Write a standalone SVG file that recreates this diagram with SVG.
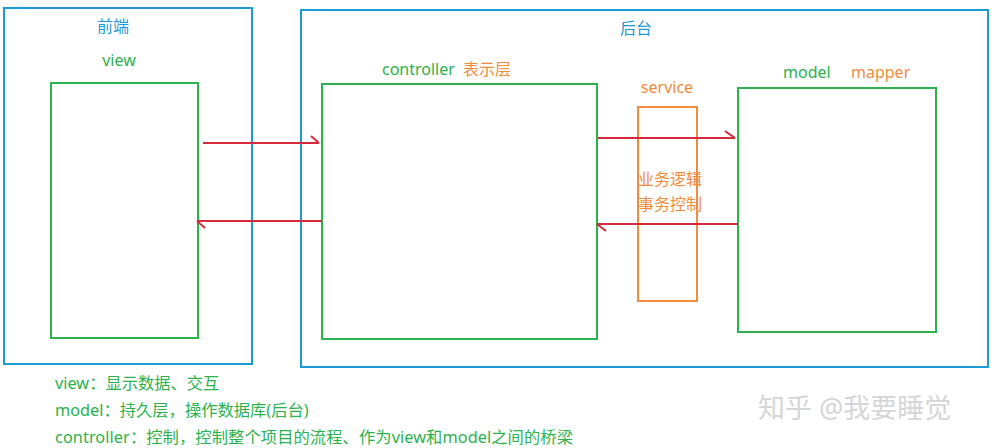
<svg xmlns="http://www.w3.org/2000/svg" width="1000" height="448" viewBox="0 0 1000 448">
<style>
text{font-family:"Noto Sans","Noto Sans CJK SC",sans-serif;font-size:16px}
.note{font-size:16.3px}
.blue{fill:none;stroke:#1b9ad6;stroke-width:2}
.green{fill:none;stroke:#2bb24c;stroke-width:2}
.orange{fill:none;stroke:#f08c3c;stroke-width:2}
.arr{fill:none;stroke:#d62a3c;stroke-width:2}
.tb{fill:#1b9ad6}.tg{fill:#2bb24c}.to{fill:#f08c3c}
</style>
<rect width="1000" height="448" fill="#fff"/>
<g id="frontend"><rect class="blue" x="4" y="8" width="248" height="356"/><text class="tb" x="113" y="32" text-anchor="middle">前端</text></g>
<g id="backend"><rect class="blue" x="301" y="10" width="687" height="357"/><text class="tb" x="636" y="34" text-anchor="middle">后台</text></g>
<g id="view"><rect class="green" x="51" y="83" width="147" height="255"/><text class="tg" x="119" y="66" text-anchor="middle">view</text></g>
<g id="controller"><rect class="green" x="322" y="84" width="275" height="255"/><text class="tg" x="382" y="75">controller</text><text class="to" x="463" y="75">表示层</text></g>
<g id="service"><rect class="orange" x="638" y="107" width="59" height="194"/><text class="to" x="667" y="93" text-anchor="middle">service</text><text class="to" x="670" y="185" text-anchor="middle">业务逻辑</text><text class="to" x="670" y="210" text-anchor="middle">事务控制</text></g>
<g id="model"><rect class="green" x="738" y="88" width="198" height="244"/><text class="tg" x="783" y="78">model</text><text class="to" x="851" y="78">mapper</text></g>
<g id="connectors">
<path class="arr" d="M203 143H319M311 136L319 143"/>
<path class="arr" d="M322 221H197M197 221L205 228"/>
<path class="arr" d="M598 138H735M725 131L735 138"/>
<path class="arr" d="M738 224H597M597 224L606 231"/>
</g>
<g id="notes">
<text class="tg note" x="55" y="389">view：显示数据、交互</text>
<text class="tg note" x="55" y="416">model：持久层，操作数据库(后台)</text>
<text class="tg note" x="55" y="443" textLength="518">controller：控制，控制整个项目的流程、作为view和model之间的桥梁</text>
</g>
<text x="758" y="418" style="font-size:27px;fill:#d6d6d6">知乎 @我要睡觉</text>
</svg>
